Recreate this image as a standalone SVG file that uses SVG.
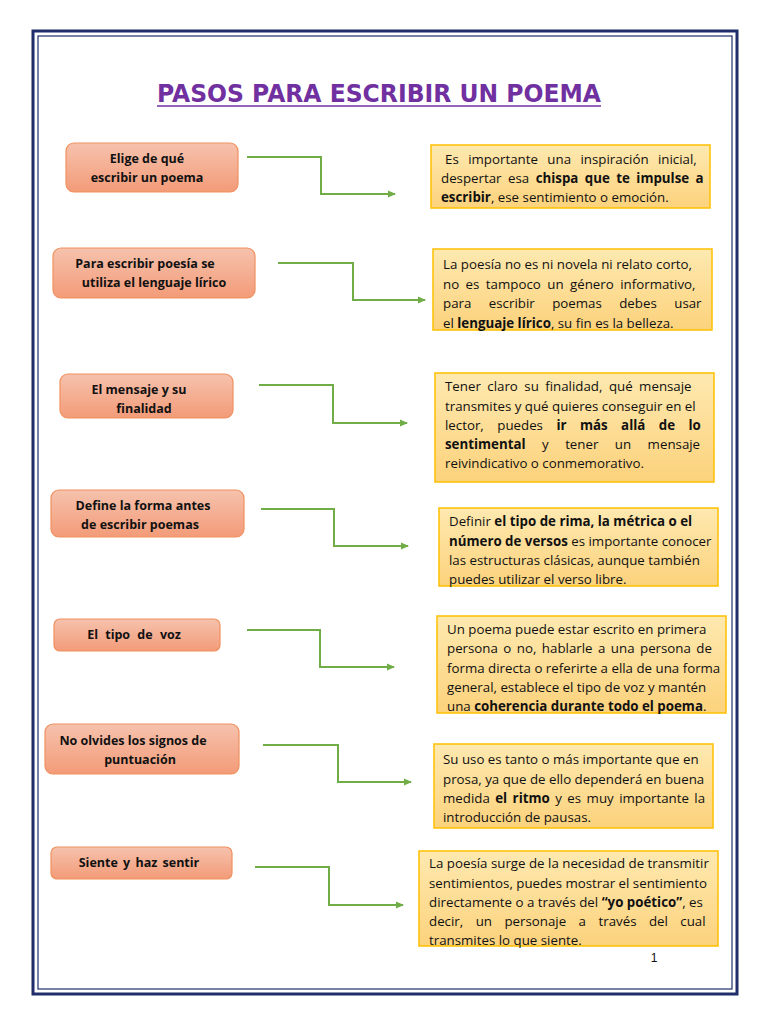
<svg xmlns="http://www.w3.org/2000/svg" width="768" height="1024" viewBox="0 0 768 1024">
<defs>
<linearGradient id="gL" x1="0" y1="0" x2="0" y2="1"><stop offset="0" stop-color="#f6c2ad"/><stop offset="1" stop-color="#f39b78"/></linearGradient>
<linearGradient id="gR" x1="0" y1="0" x2="0" y2="1"><stop offset="0" stop-color="#fee9b0"/><stop offset="1" stop-color="#fcd27c"/></linearGradient>
<marker id="ar" markerWidth="8" markerHeight="8" refX="7" refY="4" orient="auto" markerUnits="userSpaceOnUse"><path d="M0,0.5 L8,4 L0,7.5z" fill="#70ad47"/></marker>
<style>
.l{fill:url(#gL);stroke:#f0905f;stroke-width:1.2}
.r{fill:url(#gR);stroke:#ffc000;stroke-width:1.5}
.lt{font-family:"Open Sans","Liberation Sans",sans-serif;font-size:12.5px;font-weight:bold;fill:#111;text-anchor:middle}
.rt{font-family:"Open Sans","Liberation Sans",sans-serif;font-size:13.3px;fill:#111}
.b{font-weight:bold}
.c{fill:none;stroke:#70ad47;stroke-width:2;marker-end:url(#ar)}
</style>
</defs>
<rect x="0" y="0" width="768" height="1024" fill="#fff"/>
<rect x="33" y="31" width="704" height="963" fill="none" stroke="#1f2d6b" stroke-width="3"/>
<rect x="38" y="36" width="694" height="953" fill="none" stroke="#1f2d6b" stroke-width="1.2"/>
<g id="title">
<text x="379" y="102" text-anchor="middle" font-family="'DejaVu Sans','Liberation Sans',sans-serif" font-weight="bold" font-size="24" fill="#7030a0" textLength="444" lengthAdjust="spacingAndGlyphs">PASOS PARA ESCRIBIR UN POEMA</text>
<line x1="157" y1="106" x2="601" y2="106" stroke="#7030a0" stroke-width="1.5"/>
</g>
<g id="connectors">
<path class="c" d="M247,157 H321 V194 H395"/>
<path class="c" d="M278,263 H353 V300 H425"/>
<path class="c" d="M259,385 H333 V423 H407"/>
<path class="c" d="M261,509 H334 V546 H408"/>
<path class="c" d="M247,630 H320 V667 H394"/>
<path class="c" d="M263,745 H338 V782 H411"/>
<path class="c" d="M255,867 H329 V905 H403"/>
</g>
<g id="n1"><rect class="l" x="66" y="143" width="172" height="49" rx="8"/>
<text class="lt" x="147" y="163">Elige de qué</text><text class="lt" x="147" y="182">escribir un poema</text></g>
<g id="d1"><rect class="r" x="431" y="145" width="279" height="63"/>
<text class="rt" x="445" y="164" word-spacing="6">Es importante una inspiración inicial,</text>
<text class="rt" x="441" y="183" word-spacing="3">despertar esa <tspan class="b">chispa que te impulse a</tspan></text>
<text class="rt" x="441" y="202"><tspan class="b">escribir</tspan>, ese sentimiento o emoción.</text></g>
<g id="n2"><rect class="l" x="53" y="248" width="202" height="50" rx="8"/>
<text class="lt" x="145" y="268">Para escribir poesía se</text><text class="lt" x="154" y="287">utiliza el lenguaje lírico</text></g>
<g id="d2"><rect class="r" x="433" y="249" width="279" height="81"/>
<text class="rt" x="443" y="269">La poesía no es ni novela ni relato corto,</text>
<text class="rt" x="443" y="289" word-spacing="3">no es tampoco un género informativo,</text>
<text class="rt" x="443" y="308" word-spacing="14">para escribir poemas debes usar</text>
<text class="rt" x="443" y="328">el <tspan class="b">lenguaje lírico</tspan>, su fin es la belleza.</text></g>
<g id="n3"><rect class="l" x="60" y="374" width="173" height="44" rx="8"/>
<text class="lt" x="139" y="394">El mensaje y su</text><text class="lt" x="144" y="413">finalidad</text></g>
<g id="d3"><rect class="r" x="435" y="373" width="279" height="109"/>
<text class="rt" x="445" y="391" word-spacing="3">Tener claro su finalidad, qué mensaje</text>
<text class="rt" x="445" y="411">transmites y qué quieres conseguir en el</text>
<text class="rt" x="445" y="430" word-spacing="10">lector, puedes <tspan class="b">ir más allá de lo</tspan></text>
<text class="rt" x="445" y="449" word-spacing="13"><tspan class="b">sentimental</tspan> y tener un mensaje</text>
<text class="rt" x="445" y="468">reivindicativo o conmemorativo.</text></g>
<g id="n4"><rect class="l" x="51" y="490" width="193" height="47" rx="8"/>
<text class="lt" x="143" y="510">Define la forma antes</text><text class="lt" x="140" y="529">de escribir poemas</text></g>
<g id="d4"><rect class="r" x="439" y="508" width="279" height="78"/>
<text class="rt" x="449" y="526">Definir <tspan class="b">el tipo de rima, la métrica o el</tspan></text>
<text class="rt" x="449" y="546"><tspan class="b">número de versos</tspan> es importante conocer</text>
<text class="rt" x="449" y="565">las estructuras clásicas, aunque también</text>
<text class="rt" x="449" y="584">puedes utilizar el verso libre.</text></g>
<g id="n5"><rect class="l" x="54" y="619" width="166" height="32" rx="6"/>
<text class="lt" x="134" y="639" word-spacing="4">El tipo de voz</text></g>
<g id="d5"><rect class="r" x="437" y="616" width="289" height="97"/>
<text class="rt" x="447" y="634">Un poema puede estar escrito en primera</text>
<text class="rt" x="447" y="653" word-spacing="2">persona o no, hablarle a una persona de</text>
<text class="rt" x="447" y="673">forma directa o referirte a ella de una forma</text>
<text class="rt" x="447" y="692">general, establece el tipo de voz y mantén</text>
<text class="rt" x="447" y="711">una <tspan class="b">coherencia durante todo el poema</tspan>.</text></g>
<g id="n6"><rect class="l" x="45" y="724" width="194" height="50" rx="8"/>
<text class="lt" x="133" y="745">No olvides los signos de</text><text class="lt" x="140" y="764">puntuación</text></g>
<g id="d6"><rect class="r" x="434" y="744" width="279" height="84"/>
<text class="rt" x="443" y="764">Su uso es tanto o más importante que en</text>
<text class="rt" x="443" y="784">prosa, ya que de ello dependerá en buena</text>
<text class="rt" x="443" y="803" word-spacing="2">medida <tspan class="b">el ritmo</tspan> y es muy importante la</text>
<text class="rt" x="443" y="822">introducción de pausas.</text></g>
<g id="n7"><rect class="l" x="51" y="847" width="181" height="32" rx="6"/>
<text class="lt" x="139" y="867" word-spacing="2">Siente y haz sentir</text></g>
<g id="d7"><rect class="r" x="419" y="851" width="299" height="95"/>
<text class="rt" x="429" y="868">La poesía surge de la necesidad de transmitir</text>
<text class="rt" x="429" y="888">sentimientos, puedes mostrar el sentimiento</text>
<text class="rt" x="429" y="907">directamente o a través del <tspan class="b">“yo poético”</tspan>, es</text>
<text class="rt" x="429" y="926" word-spacing="9">decir, un personaje a través del cual</text>
<text class="rt" x="429" y="945">transmites lo que siente.</text></g>
<text x="654" y="962" font-family="'Liberation Sans',sans-serif" font-size="12" fill="#111" text-anchor="middle">1</text>
</svg>
